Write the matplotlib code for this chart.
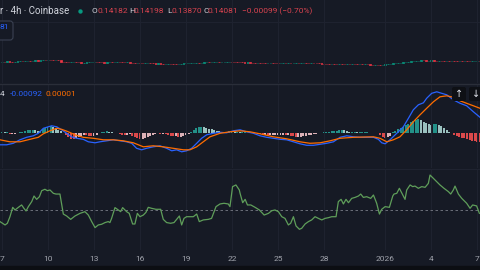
import matplotlib
matplotlib.use("Agg")
import matplotlib.pyplot as plt
from matplotlib.patches import FancyBboxPatch, Rectangle

plt.rcParams["font.family"] = ["Roboto", "DejaVu Sans"]

W, H = 480, 270
BG = "#161a25"
GRID = "#1f2330"

# x axis: days counted from Dec 1 (Dec 7 = 6, Jan 1 = 31)
tick_days = [6, 9, 12, 15, 18, 21, 24, 27, 31, 34, 37]
tick_labels = ["7", "10", "13", "16", "19", "22", "25", "28", "2026", "4", "7"]

# 4h candles: closes (open = previous close)
first_open = 0.1402
closes = [
    0.1405, 0.1402, 0.1408, 0.1404, 0.1399, 0.1403, 0.1410, 0.1414, 0.1409, 0.1416,
    0.1420, 0.1418, 0.1425, 0.1430, 0.1427, 0.1433,
    0.1436, 0.1431, 0.1438, 0.1434, 0.1430, 0.1433, 0.1428, 0.1405, 0.1398, 0.1394,
    0.1392, 0.1396, 0.1399, 0.1395, 0.1388, 0.1380, 0.1384, 0.1389, 0.1391, 0.1394,
    0.1399, 0.1396, 0.1392, 0.1389, 0.1385, 0.1390, 0.1396, 0.1394, 0.1397, 0.1399,
    0.1396, 0.1392, 0.1388, 0.1391, 0.1386,
    0.1378, 0.1374, 0.1377, 0.1372, 0.1369, 0.1373, 0.1376, 0.1374, 0.1370, 0.1366,
    0.1368, 0.1364, 0.1361, 0.1365, 0.1367, 0.1363, 0.1360, 0.1358, 0.1362, 0.1366,
    0.1371, 0.1374,
    0.1376, 0.1379, 0.1381, 0.1384, 0.1383, 0.1386, 0.1389, 0.1390, 0.1388, 0.1391,
    0.1393, 0.1395, 0.1392, 0.1394, 0.1397, 0.1401, 0.1406, 0.1404, 0.1398, 0.1395,
    0.1392, 0.1390, 0.1386, 0.1388, 0.1385, 0.1382, 0.1378, 0.1380, 0.1376, 0.1372,
    0.1369, 0.1371, 0.1374, 0.1372, 0.1370, 0.1368,
    0.1375, 0.1379, 0.1376, 0.1380, 0.1377, 0.1381, 0.1383, 0.1380, 0.1382, 0.1384,
    0.1381, 0.1378, 0.1380, 0.1376, 0.1372, 0.1368, 0.1365, 0.1362, 0.1360, 0.1358,
    0.1361, 0.1357, 0.1355, 0.1358, 0.1356, 0.1352, 0.1354, 0.1351, 0.1353, 0.1350,
    0.1348, 0.1351, 0.1349, 0.1352, 0.1350, 0.1347, 0.1344, 0.1346, 0.1343, 0.1341,
    0.1346, 0.1352, 0.1358, 0.1363, 0.1369, 0.1375, 0.1381, 0.1386, 0.1392, 0.1398,
    0.1403, 0.1409, 0.1414, 0.1420,
    0.1426, 0.1431, 0.1428, 0.1424, 0.1427, 0.1430, 0.1426, 0.1422, 0.1425, 0.1421,
    0.1418, 0.1420, 0.1416, 0.1419, 0.1415, 0.1412, 0.1414, 0.1411, 0.1416, 0.1413,
    0.1410, 0.1414, 0.1417, 0.1418, 0.1408,
]

# MACD histogram per 4h bar (units of 1e-4)
hist = [
    0.3, 0.2, 0.2, -0.2, -0.2, -0.1, 0.1, 0.2,
    0.3, 0.5, 0.6, 0.7, 0.7, 0.6, 0.4, 0.5,
    0.8, 1.1, 1.3, 1.4, 1.2, 1.0, 0.7, 0.4, 0.1,
    -0.4, -0.8, -1.1, -1.2, -1.0, -0.7, -0.5,
    -0.3, -0.4, -0.5, -0.6, -0.5, -0.3,
    0.1, 0.2, 0.3, 0.4, 0.3, 0.2, 0.1, 0.0,
    -0.2, -0.3, -0.4, -0.3, -0.2,
    -0.5, -0.8, -1.0, -1.1, -1.1, -0.9, -0.7, -0.5, -0.3, -0.1,
    0.0, -0.1, -0.1, -0.2,
    -0.4, -0.5, -0.6, -0.6, -0.7, -0.7, -0.6, -0.4, -0.2,
    0.3, 0.7, 1.1, 1.3, 1.3,
    1.2, 1.0, 0.9, 0.8, 0.7, 0.5, 0.4,
    0.3, 0.3, 0.3, 0.4, 0.4, 0.3, 0.3, 0.2,
    0.2, 0.2, 0.1, 0.1, 0.0, 0.0, -0.1, -0.2,
    -0.3, -0.3, -0.4, -0.4, -0.4, -0.3, -0.3, -0.3, -0.3, -0.4, -0.4,
    -0.5, -0.6, -0.7, -0.7, -0.7, -0.6, -0.5, -0.4,
    -0.3, -0.2, -0.1, 0.0, 0.1,
    0.2, 0.3, 0.3, 0.4, 0.4, 0.5,
    0.6, 0.7, 0.6, 0.4, 0.3,
    0.3, 0.3, 0.2, 0.2, 0.2, 0.2, 0.2, 0.1, 0.1, 0.0, 0.0,
    -0.4, -0.7, -0.9, -0.8, -0.5,
    0.2, 0.5, 0.8, 1.0, 1.3, 1.6, 1.9, 2.2, 2.5,
    2.7, 2.8, 2.6,
    2.3, 2.0, 1.8, 1.7,
    1.8, 1.8, 1.7,
    1.4, 1.0, 0.7, 0.3, 0.0,
    -0.3, -0.5, -0.7, -0.9, -1.0, -1.2, -1.3, -1.5, -1.6, -1.7, -1.8,
]

# MACD line (units of 1e-4)
macd_days = [5.87, 6.30, 6.74, 7.17, 7.61, 8.04, 8.37, 8.70, 9.02, 9.24, 9.57, 9.89,
             10.22, 10.54, 10.87, 11.30, 11.63, 12.07, 12.39, 12.83, 13.26, 13.70,
             14.13, 14.46, 14.78, 15.11, 15.43, 15.87, 16.30, 16.74, 17.07, 17.39,
             17.72, 18.04, 18.37, 18.70, 19.02, 19.35, 19.78, 20.22, 20.65, 21.09,
             21.53, 21.96, 22.40, 22.83, 23.27, 23.70, 24.14, 24.57, 25.01, 25.44,
             25.88, 26.31, 26.75, 27.18, 27.62, 28.05, 28.49, 28.92, 29.36, 29.79,
             30.23, 30.55, 30.77, 30.99, 31.31, 31.75, 32.18, 32.51, 32.83, 33.16,
             33.49, 33.70, 34.03, 34.36, 34.68, 35.01, 35.44, 35.88, 36.31, 36.75, 37.18]
macd_vals = [-2.3, -2.3, -2.0, -1.3, -0.8, -0.5, 0.0, 1.0, 1.3, 1.5, 1.3, 0.7,
             0.0, -0.7, -1.0, -1.2, -1.7, -1.9, -1.7, -1.5, -1.3, -1.5,
             -1.7, -2.0, -3.0, -3.3, -3.0, -2.7, -2.5, -3.0, -3.5, -3.3,
             -3.7, -3.5, -3.0, -2.0, -1.0, -0.3, 0.0, 0.2, 0.1, 0.5,
             0.7, 0.3, 0.0, -0.5, -0.8, -1.0, -1.2, -1.3, -1.7, -2.1,
             -2.4, -2.4, -2.2, -2.0, -1.7, -0.8, -0.5, -0.7, -0.8, -0.8,
             -0.8, -1.2, -1.9, -2.1, -1.3, 0.0, 1.3, 3.0, 4.7, 5.7,
             6.1, 7.0, 8.0, 8.3, 8.0, 7.7, 6.7, 6.0, 5.5, 4.3, 3.2]

# signal line (units of 1e-4)
signal_days = [5.87, 6.52, 7.17, 7.83, 8.37, 8.70, 9.13, 9.57, 9.89, 10.33, 10.76,
               11.30, 11.96, 12.61, 13.26, 13.91, 14.57, 15.22, 15.87, 16.52, 17.17,
               17.83, 18.26, 18.70, 19.13, 19.57, 20.22, 20.87, 21.53, 22.18, 22.83,
               23.70, 24.57, 25.44, 26.09, 26.75, 27.40, 28.05, 28.92, 30.23, 30.66,
               31.10, 31.53, 31.96, 32.40, 32.83, 33.27, 33.70, 34.14, 34.57, 35.01,
               35.44, 35.88, 36.31, 36.75, 37.18]
signal_vals = [-1.3, -1.7, -1.7, -1.2, -0.8, -0.1, 0.5, 1.0, 0.8, 0.3, -0.3,
               -0.8, -1.0, -1.3, -1.3, -1.5, -1.9, -2.7, -2.5, -2.7, -3.0,
               -3.3, -3.3, -2.7, -1.7, -0.7, 0.0, 0.3, 0.5, 0.3, -0.1,
               -0.7, -1.1, -1.7, -2.0, -1.9, -1.5, -1.0, -0.8, -0.7, -1.0,
               -1.7, -1.3, -0.7, 0.7, 2.3, 3.7, 5.0, 6.3, 7.3, 7.5,
               7.2, 6.5, 6.0, 5.5, 5.0]

# RSI
rsi_days = [5.87, 6.20, 6.35, 6.52, 6.70, 6.85, 7.07, 7.28, 7.43, 7.57, 7.72, 7.94,
            8.09, 8.26, 8.44, 8.59, 8.80, 8.96, 9.13, 9.35, 9.52, 9.78, 10.00, 10.22,
            10.48, 10.76, 11.09, 11.41, 11.63, 11.85, 12.07, 12.28, 12.50, 12.72,
            12.93, 13.04, 13.15, 13.37, 13.59, 13.74, 13.87, 14.13, 14.30, 14.52,
            14.67, 14.83, 15.00, 15.22, 15.39, 15.54, 15.76, 16.04, 16.35, 16.52,
            16.74, 17.00, 17.22, 17.39, 17.57, 17.72, 17.87, 18.04, 18.26, 18.48,
            18.70, 18.87, 19.13, 19.46, 19.67, 19.96, 20.22, 20.48, 20.76, 20.87,
            21.04, 21.26, 21.48, 21.53, 21.70, 21.86, 22.01, 22.23, 22.51, 22.79,
            23.10, 23.38, 23.60, 23.81, 24.03, 24.25, 24.46, 24.68, 24.83, 25.01,
            25.18, 25.40, 25.55, 25.77, 25.99, 26.20, 26.42, 26.64, 26.86, 27.07,
            27.29, 27.51, 27.79, 27.94, 28.12, 28.27, 28.44, 28.60, 28.81, 29.03,
            29.25, 29.40, 29.57, 29.79, 30.05, 30.23, 30.44, 30.62, 30.77, 30.99,
            31.27, 31.49, 31.57, 31.75, 31.92, 32.14, 32.29, 32.40, 32.62, 32.79,
            32.94, 33.16, 33.38, 33.60, 33.81, 33.92, 34.14, 34.36, 34.57, 34.83,
            35.12, 35.27, 35.44, 35.55, 35.77, 35.99, 36.31, 36.53, 36.70, 36.96, 37.14]
rsi_vals = [41.7, 39.3, 40.5, 45.2, 51.9, 50.0, 51.9, 53.6, 51.2, 49.3, 52.4, 56.0,
            60.0, 57.6, 59.5, 63.8, 64.8, 63.8, 64.3, 61.9, 61.4, 61.4, 47.1, 45.7,
            43.3, 45.7, 47.6, 48.8, 46.4, 41.7, 37.4, 39.3, 39.8, 41.0,
            41.7, 41.0, 44.0, 51.7, 50.0, 48.8, 51.7, 48.8, 47.6, 40.0,
            40.0, 47.6, 45.2, 46.4, 48.3, 51.9, 51.2, 50.5, 50.5, 43.3,
            41.0, 40.5, 41.0, 43.3, 45.7, 39.3, 44.0, 45.2, 45.2, 45.2,
            47.1, 41.7, 42.9, 43.3, 44.0, 52.4, 54.3, 54.8, 54.3, 52.4,
            66.7, 67.9, 64.3, 61.9, 55.2, 57.6, 53.6, 53.6, 51.9, 50.0,
            46.4, 47.6, 49.5, 50.0, 48.8, 45.2, 44.0, 39.3, 40.5, 45.2,
            38.6, 36.2, 36.9, 40.0, 41.7, 42.9, 45.2, 44.0, 42.9, 44.0,
            44.5, 45.2, 45.2, 56.0, 57.6, 54.3, 57.6, 55.2, 58.3, 59.0,
            60.0, 61.4, 59.0, 59.5, 58.3, 60.7, 54.8, 47.1, 50.5, 52.4,
            51.9, 60.0, 61.4, 61.9, 65.5, 60.7, 57.6, 64.3, 67.9, 66.7,
            67.1, 65.5, 66.7, 66.2, 69.0, 75.0, 72.6, 70.2, 67.9, 65.5,
            63.1, 61.4, 64.3, 67.1, 61.4, 58.3, 54.8, 51.2, 53.6, 52.9, 47.6]

x_lim = (5.87, 37.18)


def pane(fig, top, bottom):
    ax = fig.add_axes([0, 1 - bottom / H, 1, (bottom - top) / H])
    ax.set_facecolor(BG)
    for s in ax.spines.values():
        s.set_visible(False)
    ax.set_xlim(*x_lim)
    ax.set_xticks(tick_days)
    ax.tick_params(length=0, labelbottom=False, labelleft=False)
    ax.set_yticks([])
    ax.grid(axis="x", color=GRID, lw=0.7)
    return ax


fig = plt.figure(figsize=(W / 100, H / 100), dpi=100, facecolor=BG)

# price pane
ax_p = pane(fig, 0, 83)
ax_p.set_ylim(0.0978, 0.2638)
ax_p.axhline(0.2198, color=GRID, lw=0.7)
bar_days = [6 + i / 6 for i in range(len(closes))]
opens = [first_open] + closes[:-1]
for d, o, c in zip(bar_days, opens, closes):
    col = "#089981" if c >= o else "#f23645"
    ax_p.bar(d, abs(c - o), bottom=min(o, c), width=0.1, color=col,
             edgecolor=col, lw=0.5)

# MACD pane
ax_m = pane(fig, 84, 168)
ax_m.set_ylim(-6.94, 9.86)
hcols = []
prev = 0
for v in hist:
    if v >= 0:
        hcols.append("#26a69a" if v >= prev else "#b2dfdb")
    else:
        hcols.append("#ffcdd2" if v >= prev else "#ff5252")
    prev = v
ax_m.bar(bar_days, hist, width=0.13, color=hcols, alpha=0.85)
ax_m.plot(macd_days, macd_vals, color="#2962ff", lw=0.9)
ax_m.plot(signal_days, signal_vals, color="#ff6d00", lw=0.9)

# RSI pane
ax_r = pane(fig, 169, 250)
ax_r.set_ylim(21.4, 79.3)
ax_r.axhline(50, color="#787b86", lw=0.6, ls=(0, (3, 3)))
ax_r.plot(rsi_days, rsi_vals, color="#5f9e5a", lw=0.9)
ax_r.tick_params(labelbottom=True, pad=4, labelsize=6, labelcolor="#a0a3ac")
ax_r.set_xticklabels(tick_labels)

# overlay in pixel coordinates for legends and chrome
ov = fig.add_axes([0, 0, 1, 1], facecolor="none")
ov.set_xlim(0, W)
ov.set_ylim(H, 0)
ov.axis("off")
ov.axhline(83.5, color="#2a2e39", lw=1)
ov.axhline(168.5, color="#1f2330", lw=0.8)
ov.add_patch(Rectangle((0, 266), W, 4, color="#0c0e13"))

ov.text(69.5, 11, "r · 4h · Coinbase", ha="right", va="center",
        color="#d1d4dc", fontsize=7)
ov.scatter([80], [11], s=10, color="#089981", lw=0)
red = "#d8434f"
for txt, x, c in [("O", 91, "#d1d4dc"), ("0.14182", 97, red),
                  ("H", 129, "#d1d4dc"), ("0.14198", 134, red),
                  ("L", 167, "#d1d4dc"), ("0.13870", 172, red),
                  ("C", 204, "#d1d4dc"), ("0.14081", 208, red),
                  ("−0.00099 (−0.70%)", 242, red)]:
    ov.text(x, 11, txt, va="center", color=c, fontsize=6)

ov.add_patch(FancyBboxPatch((-6, 21), 19, 19, boxstyle="round,pad=0,rounding_size=3",
                            fc=BG, ec="#3a4152", lw=0.8))
ov.text(0, 27, "81", va="center", color="#2962ff", fontsize=6)

ov.text(0, 94, "4", va="center", color="#d1d4dc", fontsize=6)
ov.text(10, 94, "-0.00092", va="center", color="#2962ff", fontsize=6)
ov.text(45, 94, "0.00001", va="center", color="#ff6d00", fontsize=6)

for bx, arrow in [(452, "↑"), (469, "↓")]:
    ov.add_patch(FancyBboxPatch((bx, 87), 14, 14, boxstyle="round,pad=0,rounding_size=2",
                                fc="#0e1015", ec="none"))
    ov.text(bx + 7, 94, arrow, ha="center", va="center", color="#e0e3eb", fontsize=7)

fig.savefig("out.png", dpi=100, facecolor=BG)
